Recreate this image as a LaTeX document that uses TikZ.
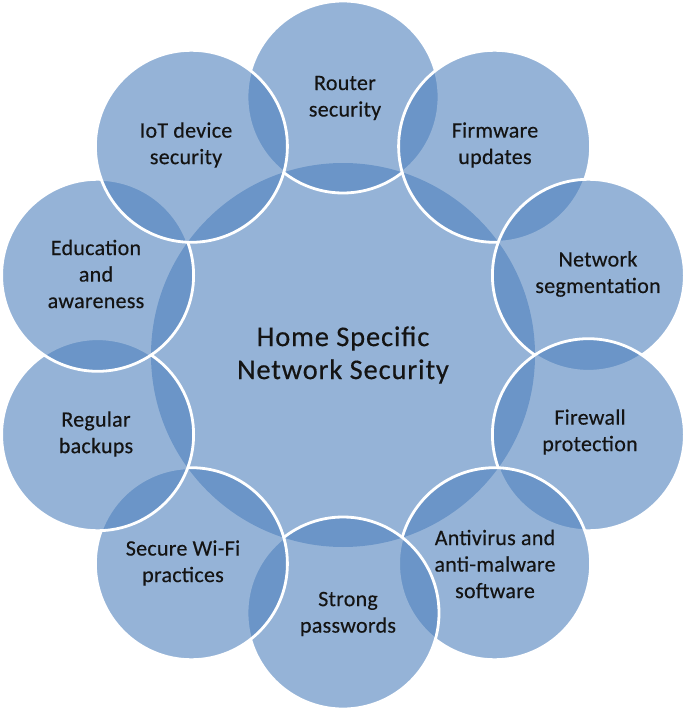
\documentclass[tikz,border=0pt]{standalone}
\usepackage{fontspec}
\setmainfont{Carlito}
\definecolor{petalblue}{RGB}{79,129,189}
\definecolor{inkdark}{RGB}{20,20,20}
\begin{document}
\begin{tikzpicture}[x=1pt,y=-1pt,
  petal/.style={circle, minimum size=192pt, inner sep=0pt, fill=petalblue, fill opacity=0.6, draw=white, line width=2.8pt},
  hubstyle/.style={circle, minimum size=384pt, inner sep=0pt, fill=petalblue, fill opacity=0.6},
  lbl/.style={align=center, text=inkdark, inner sep=0pt, font=\fontsize{22}{26.5}\selectfont\addfontfeature{LetterSpace=1.2,FakeBold=0.4}},
  hublbl/.style={align=center, text=inkdark, inner sep=0pt, font=\fontsize{28.5}{33}\selectfont\addfontfeature{LetterSpace=3,FakeBold=0.4}}]
\useasboundingbox (0,0) rectangle (685,711);
\node[hubstyle] (hub) at (343,355) {};
\node[hublbl] (hubt) at (343,355) {Home Specific\\Network Security};
\node[petal] (p1) at (343,97) {};
\node[lbl] (t1) at (345,98) {Router\\security};
\node[petal] (p2) at (494.6,146.3) {};
\node[lbl] (t2) at (495,145) {Firmware\\updates};
\node[petal] (p3) at (588.4,275.3) {};
\node[lbl] (t3) at (598,274) {Network\\segmentation};
\node[petal] (p4) at (588.4,434.7) {};
\node[lbl] (t4) at (590,432) {Firewall\\protection};
\node[petal] (p5) at (494.6,563.7) {};
\node[lbl] (t5) at (495,564) {Antivirus and\\anti-malware\\software};
\node[petal] (p6) at (343,613) {};
\node[lbl] (t6) at (348,614) {Strong\\passwords};
\node[petal] (p7) at (191.4,563.7) {};
\node[lbl] (t7) at (183,563) {Secure Wi-Fi\\practices};
\node[petal] (p8) at (97.6,434.7) {};
\node[lbl] (t8) at (96,434) {Regular\\backups};
\node[petal] (p9) at (97.6,275.3) {};
\node[lbl] (t9) at (96,274) {Education\\and\\awareness};
\node[petal] (p10) at (191.4,146.3) {};
\node[lbl] (t10) at (186,145) {IoT device\\security};
\end{tikzpicture}
\end{document}
